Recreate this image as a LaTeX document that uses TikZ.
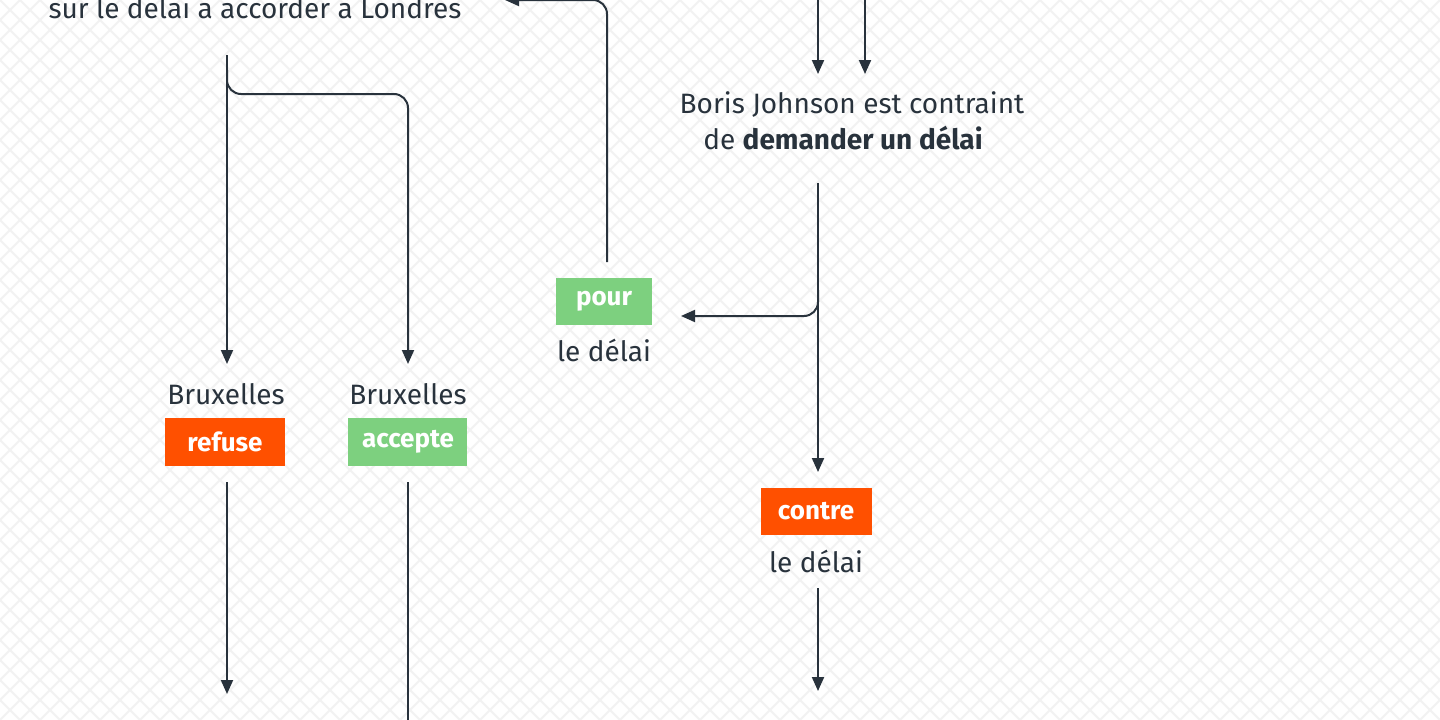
\documentclass[tikz,border=0pt]{standalone}
\usepackage{fontspec}
\setmainfont{Fira Sans}
\usetikzlibrary{arrows.meta}
\definecolor{ink}{HTML}{28323C}
\definecolor{gbox}{HTML}{7DD07F}
\definecolor{obox}{HTML}{FF5000}
\tikzset{
 conn/.style={draw=ink,line width=2pt,rounded corners=14pt},
 arr/.style={conn,-{Triangle[length=14pt,width=12pt]}},
 lbl/.style={text=ink,font=\fontsize{28}{34}\selectfont,inner sep=0pt,anchor=base},
 tag/.style={text=white,font=\fontsize{26}{30}\selectfont\bfseries,inner sep=0pt,anchor=center},
}
\begin{document}
\begin{tikzpicture}[x=1pt,y=-1pt]
\useasboundingbox (0,0) rectangle (1440,720);
\fill[white] (0,0) rectangle (1440,720);
\begin{scope}
\clip (0,0) rectangle (1440,720);
\foreach \i in {-720,-700,...,1440}{
 \draw[black!5,line width=2pt] (\i,0) -- ++(720,720);
 \draw[black!5,line width=2pt] (\i+720,0) -- ++(-720,720);
}
\end{scope}
% left column
\node[lbl] (sur) at (255,18) {sur le délai à accorder à Londres};
\coordinate (lstart) at (227,55);
\node[lbl] (bx1) at (226,404) {Bruxelles};
\node[lbl] (bx2) at (408,404) {Bruxelles};
\fill[obox] (165,418) rectangle (285,466);
\node[tag] (refuse) at (225,442) {refuse};
\fill[gbox] (348,418) rectangle (467,466);
\node[tag] (accepte) at (408,442) {accepte};
\coordinate (a1) at (227,364);
\coordinate (a2) at (408,364);
\draw[arr] (lstart) -- (a1);
\draw[arr] (227,70) |- (408,94) -- (a2);
\draw[arr] (227,482) -- (227,694);
\draw[conn] (408,482) -- (408,722);
% middle
\fill[gbox] (556,278) rectangle (652,325);
\node[tag] (pour) at (604,301) {pour};
\node[lbl] (ld1) at (604,361) {le délai};
\coordinate (back) at (505,0);
\draw[arr] (607,262) |- (back);
% right
\coordinate (t1) at (818,-2);
\coordinate (t2) at (865,-2);
\draw[arr] (t1) -- (818,74);
\draw[arr] (t2) -- (865,74);
\node[lbl] (bj) at (852,113) {Boris Johnson est contraint};
\node[lbl] (dm) at (843,149) {de \textbf{demander un délai}};
\draw[arr] (818,183) -- (818,472);
\draw[arr] (818,290) |- (681,316);
\fill[obox] (761,488) rectangle (872,535);
\node[tag] (contre) at (816,511) {contre};
\node[lbl] (ld2) at (816,572) {le délai};
\draw[arr] (818,588) -- (818,691);
\end{tikzpicture}
\end{document}
